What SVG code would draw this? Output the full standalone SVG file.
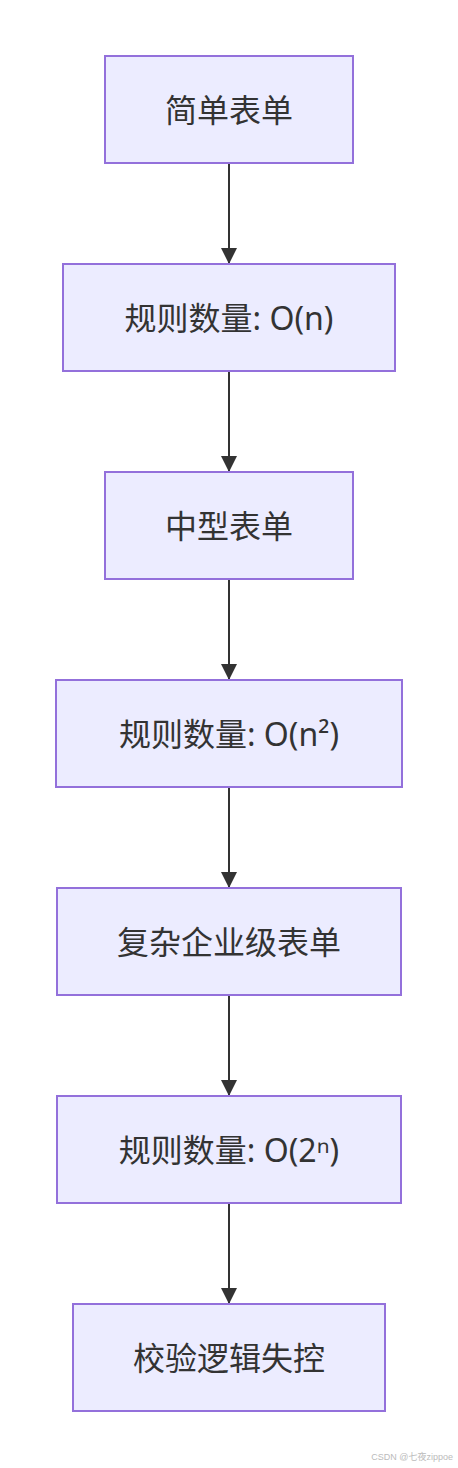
<svg xmlns="http://www.w3.org/2000/svg" width="458" height="1468" viewBox="0 0 458 1468">
<style>
.node rect{fill:#ECECFF;stroke:#9370DB;stroke-width:2}
.node text{font-family:"Noto Sans","Noto Sans CJK SC",sans-serif;font-size:32px;fill:#333;text-anchor:middle;dominant-baseline:central}
.edges path{stroke:#333;stroke-width:2;fill:none}
.wm{font-family:"Liberation Sans","Noto Sans CJK SC",sans-serif;font-size:9px;fill:#bbb}
</style>
<defs>
<marker id="arr" markerUnits="userSpaceOnUse" markerWidth="16" markerHeight="16" refX="16" refY="8" orient="auto">
<path d="M0,0 L16,8 L0,16 Z" fill="#333"/>
</marker>
</defs>
<rect width="458" height="1468" fill="#fff"/>
<g class="edges">
<path d="M229,164 L229,264" marker-end="url(#arr)"/>
<path d="M229,372 L229,472" marker-end="url(#arr)"/>
<path d="M229,580 L229,680" marker-end="url(#arr)"/>
<path d="M229,788 L229,888" marker-end="url(#arr)"/>
<path d="M229,996 L229,1096" marker-end="url(#arr)"/>
<path d="M229,1204 L229,1304" marker-end="url(#arr)"/>
</g>
<g id="n1" class="node"><rect x="105" y="56" width="248" height="107"/><text x="229" y="109.5">简单表单</text></g>
<g id="n2" class="node"><rect x="63" y="264" width="332" height="107"/><text x="229" y="317.5">规则数量: O(n)</text></g>
<g id="n3" class="node"><rect x="105" y="472" width="248" height="107"/><text x="229" y="525.5">中型表单</text></g>
<g id="n4" class="node"><rect x="56" y="680" width="346" height="107"/><text x="229" y="733.5">规则数量: O(n²)</text></g>
<g id="n5" class="node"><rect x="57" y="888" width="344" height="107"/><text x="229" y="941.5">复杂企业级表单</text></g>
<g id="n6" class="node"><rect x="57" y="1096" width="344" height="107"/><text x="229" y="1149.5">规则数量: O(2ⁿ)</text></g>
<g id="n7" class="node"><rect x="73" y="1304" width="312" height="107"/><text x="229" y="1357.5">校验逻辑失控</text></g>
<text class="wm" x="453" y="1460" text-anchor="end">CSDN @七夜zippoe</text>
</svg>
